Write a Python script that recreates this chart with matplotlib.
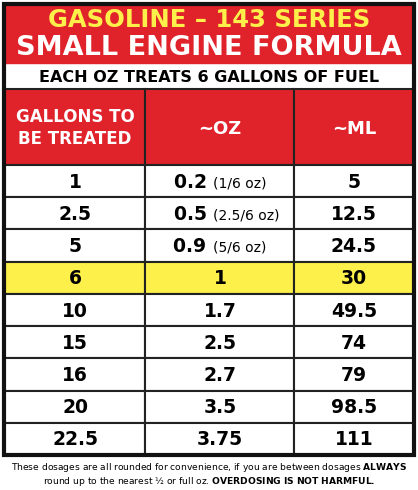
import matplotlib.pyplot as plt
from matplotlib.patches import Rectangle

gallons = ['1', '2.5', '5', '6', '10', '15', '16', '20', '22.5']
oz = ['0.2', '0.5', '0.9', '1', '1.7', '2.5', '2.7', '3.5', '3.75']
oz_note = ['(1/6 oz)', '(2.5/6 oz)', '(5/6 oz)', '', '', '', '', '', '']
ml = ['5', '12.5', '24.5', '30', '49.5', '74', '79', '98.5', '111']
highlight = 3

RED = '#e0222b'
YELLOW = '#fdf04a'

fig = plt.figure(figsize=(4.18, 4.9), dpi=100)
ax = fig.add_axes([0, 0, 1, 1])
ax.set_xlim(0, 418)
ax.set_ylim(490, 0)
ax.axis('off')

left, right = 4, 414
cols = [4, 145, 294, 414]
top_title, bot_title = 4, 63
bot_sub = 89
bot_head = 165
bottom = 455
row_h = (bottom - bot_head) / len(gallons)

# title band
ax.add_patch(Rectangle((left, top_title), right - left, bot_title - top_title, color=RED))
ax.text(209, 20, 'GASOLINE – 143 SERIES', ha='center', va='center',
        color=YELLOW, fontsize=17.5, fontweight='heavy')
ax.text(209, 48, 'SMALL ENGINE FORMULA', ha='center', va='center',
        color='white', fontsize=19.5, fontweight='heavy')
ax.text(209, 77, 'EACH OZ TREATS 6 GALLONS OF FUEL', ha='center', va='center',
        color='black', fontsize=11.5, fontweight='heavy')

# header row
for i in range(3):
    ax.add_patch(Rectangle((cols[i], bot_sub), cols[i + 1] - cols[i], bot_head - bot_sub,
                           facecolor=RED, edgecolor='#222222', lw=1.5))
ax.text(75, 128, 'GALLONS TO\nBE TREATED', ha='center', va='center', color='white',
        fontsize=12, fontweight='bold', linespacing=1.25)
ax.text(220, 129, '~OZ', ha='center', va='center', color='white', fontsize=13, fontweight='bold')
ax.text(354, 129, '~ML', ha='center', va='center', color='white', fontsize=13, fontweight='bold')

# data rows
for r in range(len(gallons)):
    y0 = bot_head + r * row_h
    fc = YELLOW if r == highlight else 'white'
    for i in range(3):
        ax.add_patch(Rectangle((cols[i], y0), cols[i + 1] - cols[i], row_h,
                               facecolor=fc, edgecolor='#222222', lw=1.5))
    yc = y0 + row_h / 2 + 1
    ax.text(75, yc, gallons[r], ha='center', va='center', fontsize=13.5, fontweight='bold')
    ax.text(354, yc, ml[r], ha='center', va='center', fontsize=13.5, fontweight='bold')
    if oz_note[r]:
        ax.text(213, yc, oz[r] + ' ', ha='right', va='center', fontsize=13.5, fontweight='bold')
        ax.text(213, yc + 1, oz_note[r], ha='left', va='center', fontsize=10)
    else:
        ax.text(220, yc, oz[r], ha='center', va='center', fontsize=13.5, fontweight='bold')

# outer frame
ax.add_patch(Rectangle((left, top_title), right - left, bottom - top_title,
                       fill=False, edgecolor='#111111', lw=3))

ax.text(209, 467, 'These dosages are all rounded for convenience, if you are between dosages $\\bf{ALWAYS}$',
        ha='center', va='center', fontsize=6.6)
ax.text(209, 481, 'round up to the nearest ½ or full oz. $\\bf{OVERDOSING\\ IS\\ NOT\\ HARMFUL.}$',
        ha='center', va='center', fontsize=6.6)

fig.savefig('out.png', dpi=100)
